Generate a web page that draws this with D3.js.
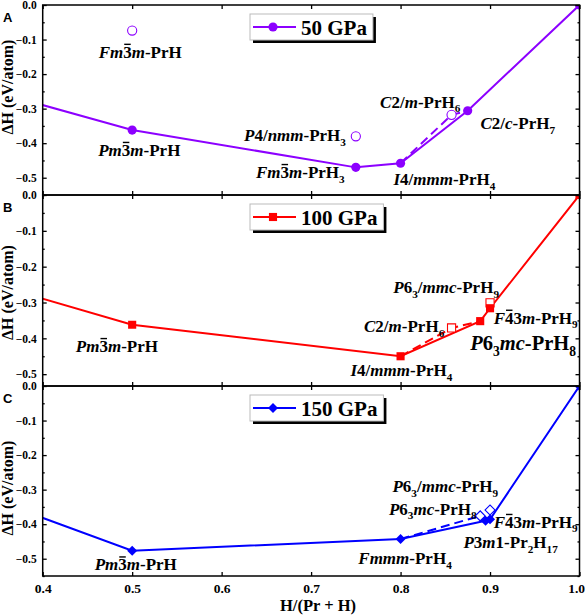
<!DOCTYPE html>
<html>
<head>
<meta charset="utf-8">
<script src="https://cdn.jsdelivr.net/npm/d3@7"></script>
<style>
  body { margin: 0; background: #fff; }
  svg text { font-family: "Liberation Serif", "Times New Roman", serif; font-weight: bold; }
</style>
</head>
<body>
<div id="chart"></div>
<script>
// ---- data ----
var xTicks = [0.4, 0.5, 0.6, 0.7, 0.8, 0.9, 1.0];
var yTicks = [0, -0.1, -0.2, -0.3, -0.4, -0.5];
var yMinor = [-0.05, -0.15, -0.25, -0.35, -0.45, -0.55];

var pressures = ["50 GPa", "100 GPa", "150 GPa"];
var letters = ["A", "B", "C"];

// stable phases (solid line + filled marker), [x, dH]
var hull50  = [[0, 0], [0.5, -0.362], [0.75, -0.470], [0.8, -0.458], [0.875, -0.306], [1, 0]];
var hull100 = [[0, 0], [0.5, -0.362], [0.8, -0.450], [0.889, -0.352], [0.9, -0.316], [1, 0]];
var hull150 = [[0, 0], [0.5, -0.477], [0.8, -0.443], [0.895, -0.390], [0.9, -0.386], [1, 0]];

// metastable phases (open markers)
var meta50  = [[0.5, -0.074], [0.75, -0.380], [0.857, -0.318]];
var meta100 = [[0.857, -0.371], [0.9, -0.301]];
var meta150 = [[0.889, -0.376], [0.9, -0.359]];

// dashed connections through the metastable phases
var dash50  = [[0.8, -0.458], [0.857, -0.318], [0.875, -0.306]];
var dash100 = [[0.8, -0.450], [0.857, -0.371], [0.889, -0.352]];
var dash150 = [[0.8, -0.443], [0.889, -0.376]];

// phase names, anchored in data units.  {..} italic, [..] overbar, _n subscript
var labels50 = [
  { t: "{Fm}[3]{m}-PrH",   x: 0.509, y: -0.136 },
  { t: "{Pm}[3]{m}-PrH",   x: 0.508, y: -0.420 },
  { t: "{P}4/{nmm}-PrH_3", x: 0.682, y: -0.377 },
  { t: "{Fm}[3]{m}-PrH_3", x: 0.688, y: -0.484 },
  { t: "{I}4/{mmm}-PrH_4", x: 0.849, y: -0.505 },
  { t: "{C}2/{m}-PrH_6",   x: 0.822, y: -0.281 },
  { t: "{C}2/{c}-PrH_7",   x: 0.931, y: -0.342 }
];
var labels100 = [
  { t: "{Pm}[3]{m}-PrH",    x: 0.483, y: -0.422 },
  { t: "{I}4/{mmm}-PrH_4",  x: 0.801, y: -0.490 },
  { t: "{C}2/{m}-PrH_6",    x: 0.804, y: -0.366 },
  { t: "{P}6_3/{mmc}-PrH_9", x: 0.851, y: -0.259 },
  { t: "{F}[4]3{m}-PrH_9",  x: 0.951, y: -0.343 },
  { t: "{P}6_3{mc}-PrH_8",  x: 0.937, y: -0.415 }
];
var labels150 = [
  { t: "{Pm}[3]{m}-PrH",     x: 0.504, y: -0.517 },
  { t: "{Fmmm}-PrH_4",       x: 0.805, y: -0.500 },
  { t: "{P}6_3/{mmc}-PrH_9", x: 0.850, y: -0.292 },
  { t: "{P}6_3{mc}-PrH_8",   x: 0.836, y: -0.356 },
  { t: "{F}[4]3{m}-PrH_9",   x: 0.951, y: -0.394 },
  { t: "{P}3{m}1-Pr_2H_17",  x: 0.923, y: -0.454 }
];

var hulls = [hull50, hull100, hull150];
var metas = [meta50, meta100, meta150];
var dashes = [dash50, dash100, dash150];
var labelSets = [labels50, labels100, labels150];

// ---- layout ----
var colors = ["#8c00ff", "#ff0000", "#0000ff"];
var symbols = [d3.symbolCircle, d3.symbolSquare, d3.symbolSquare];
var symSize = [66, 66, 50];
var symRot = [0, 0, 45];
var panels = [
  { top: 5,   bottom: 195, min: -0.55,  titleShift: -13 },
  { top: 195, bottom: 386, min: -0.533, titleShift: 2 },
  { top: 386, bottom: 576, min: -0.55,  titleShift: 7 }
];

var W = 585, H = 615;
var svg = d3.select("#chart").append("svg").attr("width", W).attr("height", H);

var x = d3.scaleLinear().domain([0.4, 1.0]).range([42.7, 579.5]);

function yFmt(d) { return d === 0 ? "0.0" : "\u2212" + Math.abs(d).toFixed(1); }

// write marked-up label into a text element
function richText(sel, str, fs) {
  var re = /\{([^}]*)\}|\[([^\]]*)\]|_(\d+)|([^{\[_]+)/g, m, shift = 0, bars = [], idx = 0;
  while ((m = re.exec(str)) !== null) {
    var ts = sel.append("tspan");
    var txt;
    if (m[1] !== undefined) { txt = m[1]; ts.style("font-style", "italic"); }
    else if (m[2] !== undefined) { txt = m[2]; bars.push([idx, txt.length]); }
    else if (m[3] !== undefined) {
      txt = m[3];
      ts.attr("font-size", fs * 0.66).attr("dy", fs * 0.28 - shift);
      shift = fs * 0.28;
      ts.text(txt); idx += txt.length;
      continue;
    }
    else { txt = m[4]; }
    if (shift) { ts.attr("dy", -shift); shift = 0; }
    ts.text(txt);
    idx += txt.length;
  }
  return bars;
}

function drawBars(g, textSel, bars, fs) {
  var node = textSel.node();
  var base = +textSel.attr("y");
  bars.forEach(function(b) {
    var e0 = node.getExtentOfChar(b[0]);
    var e1 = node.getExtentOfChar(b[0] + b[1] - 1);
    g.append("line")
      .attr("x1", e0.x + 1).attr("x2", e1.x + e1.width - 1)
      .attr("y1", base - fs * 0.78).attr("y2", base - fs * 0.78)
      .attr("stroke", "#000").attr("stroke-width", 1.4);
  });
}

panels.forEach(function(P, p) {
  var y = d3.scaleLinear().domain([P.min, 0]).range([P.bottom, P.top]);
  var g = svg.append("g");
  var col = colors[p];

  g.append("clipPath").attr("id", "clip" + p).append("rect")
    .attr("x", x.range()[0]).attr("y", P.top)
    .attr("width", x.range()[1] - x.range()[0]).attr("height", P.bottom - P.top);

  var plot = g.append("g").attr("clip-path", "url(#clip" + p + ")");
  var line = d3.line().x(function(d) { return x(d[0]); }).y(function(d) { return y(d[1]); });

  plot.append("path").datum(dashes[p]).attr("d", line)
    .attr("fill", "none").attr("stroke", col).attr("stroke-width", 2)
    .attr("stroke-dasharray", "9,5");

  plot.append("path").datum(hulls[p]).attr("d", line)
    .attr("fill", "none").attr("stroke", col).attr("stroke-width", 2);

  var sym = d3.symbol().type(symbols[p]).size(symSize[p]);
  plot.selectAll(".meta").data(metas[p]).enter().append("path")
    .attr("d", sym)
    .attr("transform", function(d) { return "translate(" + x(d[0]) + "," + y(d[1]) + ") rotate(" + symRot[p] + ")"; })
    .attr("fill", "#fff").attr("stroke", col).attr("stroke-width", 1.1);

  plot.selectAll(".hull").data(hulls[p]).enter().append("path")
    .attr("d", sym)
    .attr("transform", function(d) { return "translate(" + x(d[0]) + "," + y(d[1]) + ") rotate(" + symRot[p] + ")"; })
    .attr("fill", col);

  // frame
  g.append("rect")
    .attr("x", x.range()[0]).attr("y", P.top)
    .attr("width", x.range()[1] - x.range()[0]).attr("height", P.bottom - P.top)
    .attr("fill", "none").attr("stroke", "#000").attr("stroke-width", 1.5);

  // y ticks, both sides, inward
  var axL = d3.axisLeft(y).tickValues(yTicks).tickSize(-4).tickPadding(6).tickFormat(yFmt);
  var gl = g.append("g").attr("transform", "translate(" + x.range()[0] + ",0)").call(axL);
  gl.select(".domain").remove();
  gl.selectAll("text").attr("font-size", 11.5);
  var glm = g.append("g").attr("transform", "translate(" + x.range()[0] + ",0)")
    .call(d3.axisLeft(y).tickValues(yMinor.filter(function(v) { return v >= P.min; })).tickSize(-2).tickFormat(""));
  glm.select(".domain").remove();

  var gr = g.append("g").attr("transform", "translate(" + x.range()[1] + ",0)")
    .call(d3.axisRight(y).tickValues(yTicks).tickSize(-4).tickFormat(""));
  gr.select(".domain").remove();
  var grm = g.append("g").attr("transform", "translate(" + x.range()[1] + ",0)")
    .call(d3.axisRight(y).tickValues(yMinor.filter(function(v) { return v >= P.min; })).tickSize(-2).tickFormat(""));
  grm.select(".domain").remove();

  // x ticks top and bottom, inward
  var gt = g.append("g").attr("transform", "translate(0," + P.top + ")")
    .call(d3.axisTop(x).tickValues(xTicks).tickSize(-4).tickFormat(""));
  gt.select(".domain").remove();
  var gb = g.append("g").attr("transform", "translate(0," + P.bottom + ")")
    .call(d3.axisBottom(x).tickValues(xTicks).tickSize(-4).tickPadding(7).tickFormat(p === 2 ? d3.format(".1f") : ""));
  gb.select(".domain").remove();
  gb.selectAll("text").attr("font-size", 13.5);
  gb.selectAll(".tick:last-of-type text").attr("text-anchor", "end").attr("dx", 5);

  g.selectAll(".tick line").attr("stroke", "#000").attr("stroke-width", 1.3);

  // y title
  g.append("text")
    .attr("transform", "translate(13," + ((P.top + P.bottom) / 2 + P.titleShift) + ") rotate(-90)")
    .attr("text-anchor", "middle").attr("font-size", 16)
    .text("\u0394H (eV/atom)");

  // panel letter
  g.append("text").attr("x", 3).attr("y", P.top + 17)
    .style("font-family", "'Liberation Sans', Arial, sans-serif")
    .attr("font-size", 13).text(letters[p]);

  // phase labels
  labelSets[p].forEach(function(d) {
    var fs = (p === 1 && d.t.indexOf("{mc}") >= 0) ? 20.5 : 17;
    var t = g.append("text")
      .attr("x", x(d.x)).attr("y", y(d.y) + fs * 0.33)
      .attr("text-anchor", "middle").attr("font-size", fs);
    var bars = richText(t, d.t, fs);
    drawBars(g, t, bars, fs);
  });

  // legend
  var lg = g.append("g").attr("transform", "translate(250," + (P.top + 9) + ")");
  var lt = lg.append("text").attr("x", 51).attr("y", 20.5).attr("font-size", 21).text(pressures[p]);
  var bw = 51 + lt.node().getComputedTextLength() + 6, bh = 26;
  lg.insert("rect", "text").attr("x", 3).attr("y", 3).attr("width", bw).attr("height", bh).attr("fill", "#000");
  lg.insert("rect", "text").attr("x", 0).attr("y", 0).attr("width", bw).attr("height", bh)
    .attr("fill", "#fff").attr("stroke", "#bbb").attr("stroke-width", 1);
  lg.append("line").attr("x1", 3).attr("x2", 46).attr("y1", bh / 2).attr("y2", bh / 2)
    .attr("stroke", col).attr("stroke-width", 2);
  lg.append("path").attr("d", sym)
    .attr("transform", "translate(23," + (bh / 2) + ") rotate(" + symRot[p] + ")")
    .attr("fill", col);
});

// x title
svg.append("text").attr("x", 318).attr("y", 611).attr("text-anchor", "middle")
  .attr("font-size", 16.5).text("H/(Pr + H)");
</script>
</body>
</html>
